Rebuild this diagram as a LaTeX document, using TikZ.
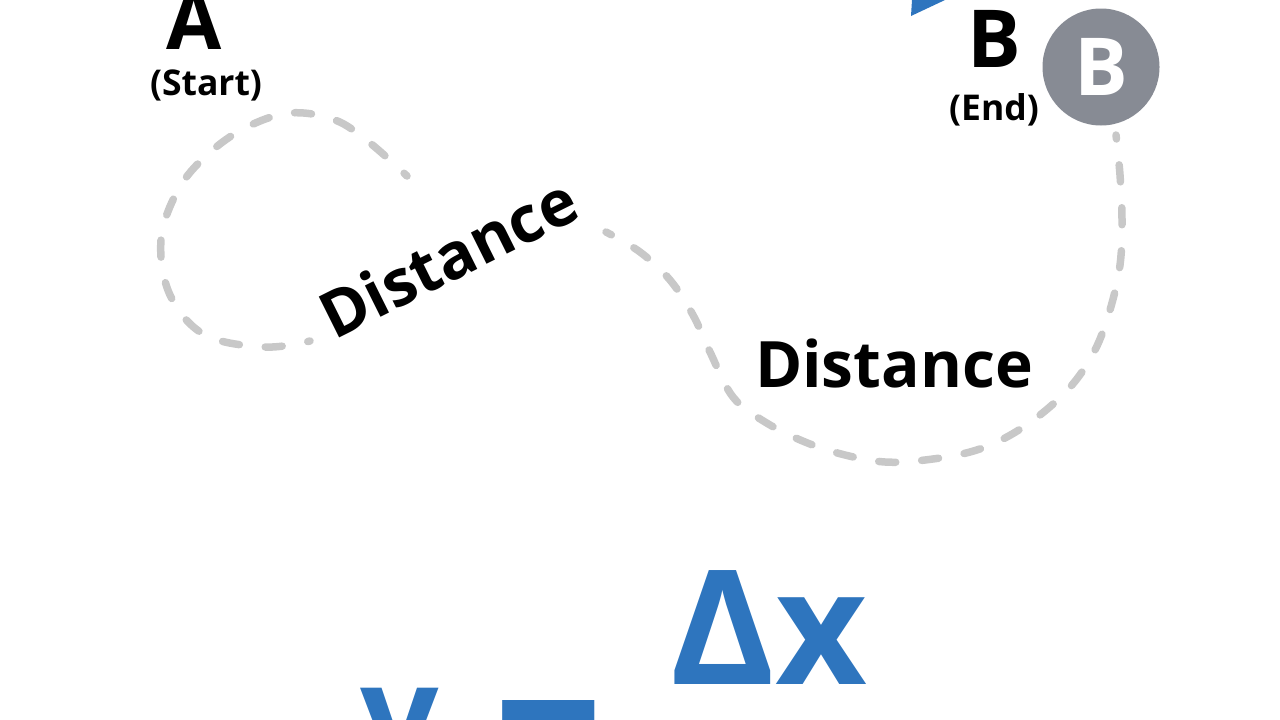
\documentclass[tikz,border=0pt]{standalone}
\usepackage{fontspec}
\setmainfont{Open Sans}
\usetikzlibrary{positioning}
\definecolor{pathgray}{RGB}{200,200,200}
\definecolor{endgray}{RGB}{135,139,148}
\definecolor{formblue}{RGB}{46,117,190}
\tikzset{
    track/.style={draw=pathgray, line width=7.5pt, dash pattern=on 17pt off 26pt, dash phase=13pt, line cap=round},
    letter/.style={inner sep=0pt, font=\bfseries\fontsize{80}{80}\selectfont},
    sublabel/.style={inner sep=0pt, font=\bfseries\fontsize{35.5}{35.5}\selectfont},
    distlabel/.style={inner sep=0pt, font=\bfseries\fontsize{64}{64}\selectfont},
    formula/.style={inner sep=0pt, text=formblue, font=\bfseries\fontsize{159}{159}\selectfont}
}
\begin{document}
\begin{tikzpicture}[x=1pt,y=-1pt]
    \useasboundingbox (0,0) rectangle (1280,720);
    \clip (0,0) rectangle (1280,720);
    \node[letter, anchor=base] (A) at (194,49) {A};
    \node[sublabel] (start) at (206,85) {(Start)};
    \node[letter, anchor=base] (B) at (994,67) {B};
    \node[sublabel] (end) at (994,110) {(End)};
    \node[circle, fill=endgray, minimum size=117pt, inner sep=0pt, text=white, font=\bfseries\fontsize{80}{80}\selectfont] (Bcircle) at (1101,67) {B};
    \fill[formblue] (911,16) -- (912,0) -- (945,0) -- cycle;
    \node[distlabel, rotate=26.5] (dist1) at (448,257) {Distance};
    \node[distlabel] (dist2) at (894,363) {Distance};
    \coordinate (p1) at (407,176);
    \coordinate (p2) at (310,341);
    \coordinate (p3) at (606,232);
    \coordinate (p4) at (1116,135);
    \draw[track] plot[smooth, tension=0.6] coordinates {(p1) (370,143) (335,120) (290,113) (245,128) (207,155) (178,190) (161,240) (170,295) (205,335) (265,347) (p2)};
    \draw[track] plot[smooth, tension=0.6] coordinates {(p4) (1120,175) (1122,220) (1120,265) (1110,310) (1095,350) (1072,385) (1040,415) (1005,438) (970,452) (925,460) (885,462) (845,455) (805,442) (765,422) (733,397) (710,352) (693,315) (670,280) (640,252) (p3)};
    \node[formula] (dx) at (769,628) {Δx};
    \node[formula, anchor=base, font=\bfseries\fontsize{138}{138}\selectfont] (v) at (400,763) {v};
    \node[formula, anchor=base, font=\bfseries\fontsize{190}{190}\selectfont] (eq) at (549,795) {=};
\end{tikzpicture}
\end{document}
